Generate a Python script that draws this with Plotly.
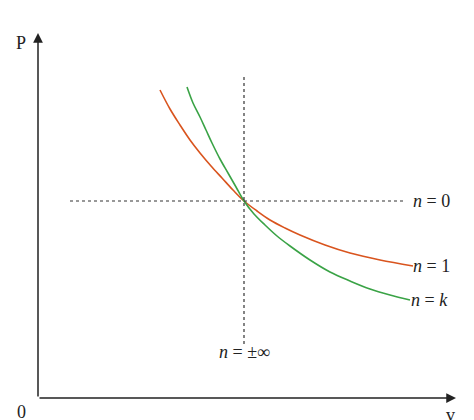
import plotly.graph_objects as go

# coordinates in diagram units (v to the right, P up)
red_v = [160, 170, 180, 190, 200, 211, 222, 233, 244, 257, 270, 285, 300, 325, 350, 380, 413]
red_p = [345, 326, 310, 295, 282, 269, 257, 245, 234, 224, 215, 207, 200, 190, 182, 175, 169]
green_v = [187, 193, 200, 206, 212, 220, 228, 236, 244, 254, 265, 277, 290, 310, 330, 350, 370, 390, 410]
green_p = [348, 332, 318, 305, 292, 276, 262, 248, 234, 221, 210, 199, 189, 175, 163, 154, 146, 140, 135]

fig = go.Figure()
fig.add_trace(go.Scatter(x=red_v, y=red_p, mode="lines", line=dict(color="#d9541e", width=1.6, shape="spline")))
fig.add_trace(go.Scatter(x=green_v, y=green_p, mode="lines", line=dict(color="#3aa346", width=1.6, shape="spline")))
dot = dict(color="#333", width=1.2, dash="dot")
fig.add_shape(type="line", x0=70, x1=405, y0=234, y1=234, line=dot)
fig.add_shape(type="line", x0=244, x1=244, y0=358, y1=90, line=dot)
for (x0, y0, x1, y1) in [(38, 37, 38, 402), (38, 37, 456, 37)]:
    fig.add_annotation(x=x1, y=y1, ax=x0, ay=y0, xref="x", yref="y", axref="x", ayref="y",
                       showarrow=True, arrowhead=2, arrowsize=1.3, arrowwidth=1.5, arrowcolor="#222", text="")
font = dict(family="Liberation Serif", size=18, color="#222")
def lab(x, y, t, xa="left"):
    fig.add_annotation(x=x, y=y, text=t, showarrow=False, font=font, xanchor=xa)
lab(14, 392, "P")
lab(444, 20, "v")
lab(15, 23, "0")
lab(411, 234, "<i>n</i> = 0")
lab(411, 169, "<i>n</i> = 1")
lab(409, 135, "<i>n</i> = <i>k</i>")
lab(244, 83, "<i>n</i> = ±∞", "center")
fig.update_layout(width=474, height=420, margin=dict(l=0, r=0, t=0, b=0), showlegend=False,
                  plot_bgcolor="white", paper_bgcolor="white",
                  xaxis=dict(range=[8, 482], visible=False),
                  yaxis=dict(range=[7, 427], visible=False))
fig.write_html("out.html")
